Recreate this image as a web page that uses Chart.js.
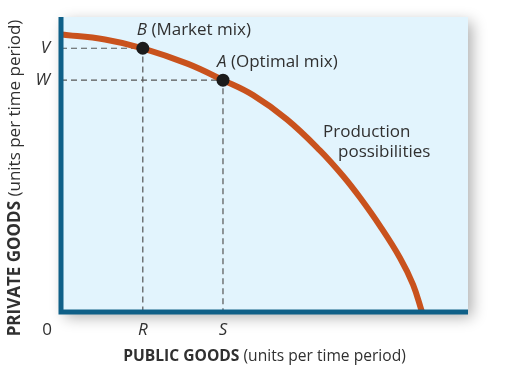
<!DOCTYPE html>
<html>
<head>
<meta charset="utf-8">
<script src="https://cdn.jsdelivr.net/npm/chart.js@4.4.1/dist/chart.umd.min.js"></script>
<style>
  html, body { margin: 0; padding: 0; background: #ffffff; }
  #wrap { width: 507px; height: 385px; }
</style>
</head>
<body>
<div id="wrap"><canvas id="ppc" width="507" height="385"></canvas></div>
<script>
// production possibilities curve
const curveX = [0, 10.8, 20.1, 31.2, 39.8, 47.2, 55.5, 63.6, 69.3, 73.5, 78.4, 83.3, 86.5, 88.7];
const curveY = [94.1, 92.4, 89.4, 84.1, 78.6, 73.5, 65.3, 54.8, 46.1, 38.7, 29.1, 18.3, 9.3, 0];

// the two mixes
const mixNames = ['B', 'A'];
const mixLabels = ['(Market mix)', '(Optimal mix)'];
const mixX = [20.1, 39.8];   // R, S
const mixY = [89.4, 78.6];   // V, W
const xTickLabels = ['R', 'S'];
const yTickLabels = ['V', 'W'];

const FONT = '"Open Sans", "Liberation Sans", sans-serif';
const TXT = '#303030';

var curve = curveX.map((x, i) => ({ x: x, y: curveY[i] }));
var mixes = mixX.map((x, i) => ({ x: x, y: mixY[i] }));

// dashed guides: axis -> point -> axis
var guides = mixX.map((x, i) => ({
  type: 'line',
  data: [{ x: 0, y: mixY[i] }, { x: x, y: mixY[i] }, { x: x, y: 0 }],
  borderColor: '#555555',
  borderWidth: 1.2,
  borderDash: [6, 4],
  pointRadius: 0,
  tension: 0,
  order: 3
}));

function mixedText(ctx, parts, x, y, align) {
  // parts: [[text, font], ...]
  var total = 0;
  parts.forEach(p => { ctx.font = p[1]; total += ctx.measureText(p[0]).width; });
  var cx = align === 'center' ? x - total / 2 : x;
  ctx.textAlign = 'left';
  parts.forEach(p => {
    ctx.font = p[1];
    ctx.fillText(p[0], cx, y);
    cx += ctx.measureText(p[0]).width;
  });
}

const framePlugin = {
  id: 'frame',
  beforeDraw(chart) {
    const ctx = chart.ctx;
    const a = chart.chartArea;
    ctx.save();
    ctx.fillStyle = '#ffffff';
    ctx.fillRect(0, 0, chart.width, chart.height);
    ctx.shadowColor = 'rgba(0,0,0,0.32)';
    ctx.shadowBlur = 14;
    ctx.shadowOffsetX = 4;
    ctx.shadowOffsetY = 5;
    ctx.fillStyle = '#e2f4fd';
    ctx.fillRect(a.left, a.top, a.right - a.left, a.bottom - a.top);
    ctx.restore();
  },
  afterDatasetsDraw(chart) {
    const ctx = chart.ctx;
    const a = chart.chartArea;
    const xs = chart.scales.x, ys = chart.scales.y;
    ctx.save();
    // axes
    ctx.strokeStyle = '#0f6088';
    ctx.lineWidth = 5;
    ctx.beginPath();
    ctx.moveTo(a.left, a.top);
    ctx.lineTo(a.left, a.bottom + 2.5);
    ctx.moveTo(a.left - 2.5, a.bottom);
    ctx.lineTo(a.right, a.bottom);
    ctx.stroke();

    ctx.fillStyle = TXT;
    ctx.textBaseline = 'middle';

    // tick letters
    ctx.font = 'italic 17px ' + FONT;
    ctx.textAlign = 'center';
    xTickLabels.forEach((t, i) => ctx.fillText(t, xs.getPixelForValue(mixX[i]), 330));
    ctx.textAlign = 'right';
    yTickLabels.forEach((t, i) => ctx.fillText(t, 50, ys.getPixelForValue(mixY[i])));
    ctx.textAlign = 'center';
    ctx.font = '17px ' + FONT;
    ctx.fillText('0', 47, 330);

    // point labels
    mixNames.forEach((n, i) => {
      const px = xs.getPixelForValue(mixX[i]);
      const py = ys.getPixelForValue(mixY[i]);
      mixedText(ctx, [[n + ' ', 'italic 17px ' + FONT], [mixLabels[i], '17px ' + FONT]], px - 6, py - 18, 'left');
    });

    // curve label
    ctx.font = '17px ' + FONT;
    ctx.textAlign = 'left';
    ctx.fillText('Production', 323, 132);
    ctx.fillText('possibilities', 338, 152);

    // axis titles
    mixedText(ctx, [['PUBLIC GOODS ', 'bold 15.6px ' + FONT], ['(units per time period)', '15.6px ' + FONT]],
      (a.left + a.right) / 2, 357, 'center');
    ctx.translate(15, 178);
    ctx.rotate(-Math.PI / 2);
    mixedText(ctx, [['PRIVATE GOODS ', 'bold 17px ' + FONT], ['(units per time period)', '17px ' + FONT]],
      0, 0, 'center');
    ctx.restore();
  }
};

new Chart(document.getElementById('ppc'), {
  type: 'line',
  data: {
    datasets: [
      {
        type: 'scatter',
        data: mixes,
        pointRadius: 6.5,
        pointHoverRadius: 6.5,
        pointBackgroundColor: '#1b1b1b',
        pointBorderWidth: 0,
        order: 1
      },
      {
        type: 'line',
        data: curve,
        borderColor: '#c9521d',
        borderWidth: 6,
        pointRadius: 0,
        tension: 0.4,
        order: 2
      },
      ...guides
    ]
  },
  options: {
    responsive: false,
    animation: false,
    events: [],
    layout: { padding: { left: 61, top: 17, right: 39, bottom: 73 } },
    plugins: { legend: { display: false }, tooltip: { enabled: false } },
    scales: {
      x: { type: 'linear', min: 0, max: 100, display: false },
      y: { type: 'linear', min: 0, max: 100, display: false }
    }
  },
  plugins: [framePlugin]
});
</script>
</body>
</html>
